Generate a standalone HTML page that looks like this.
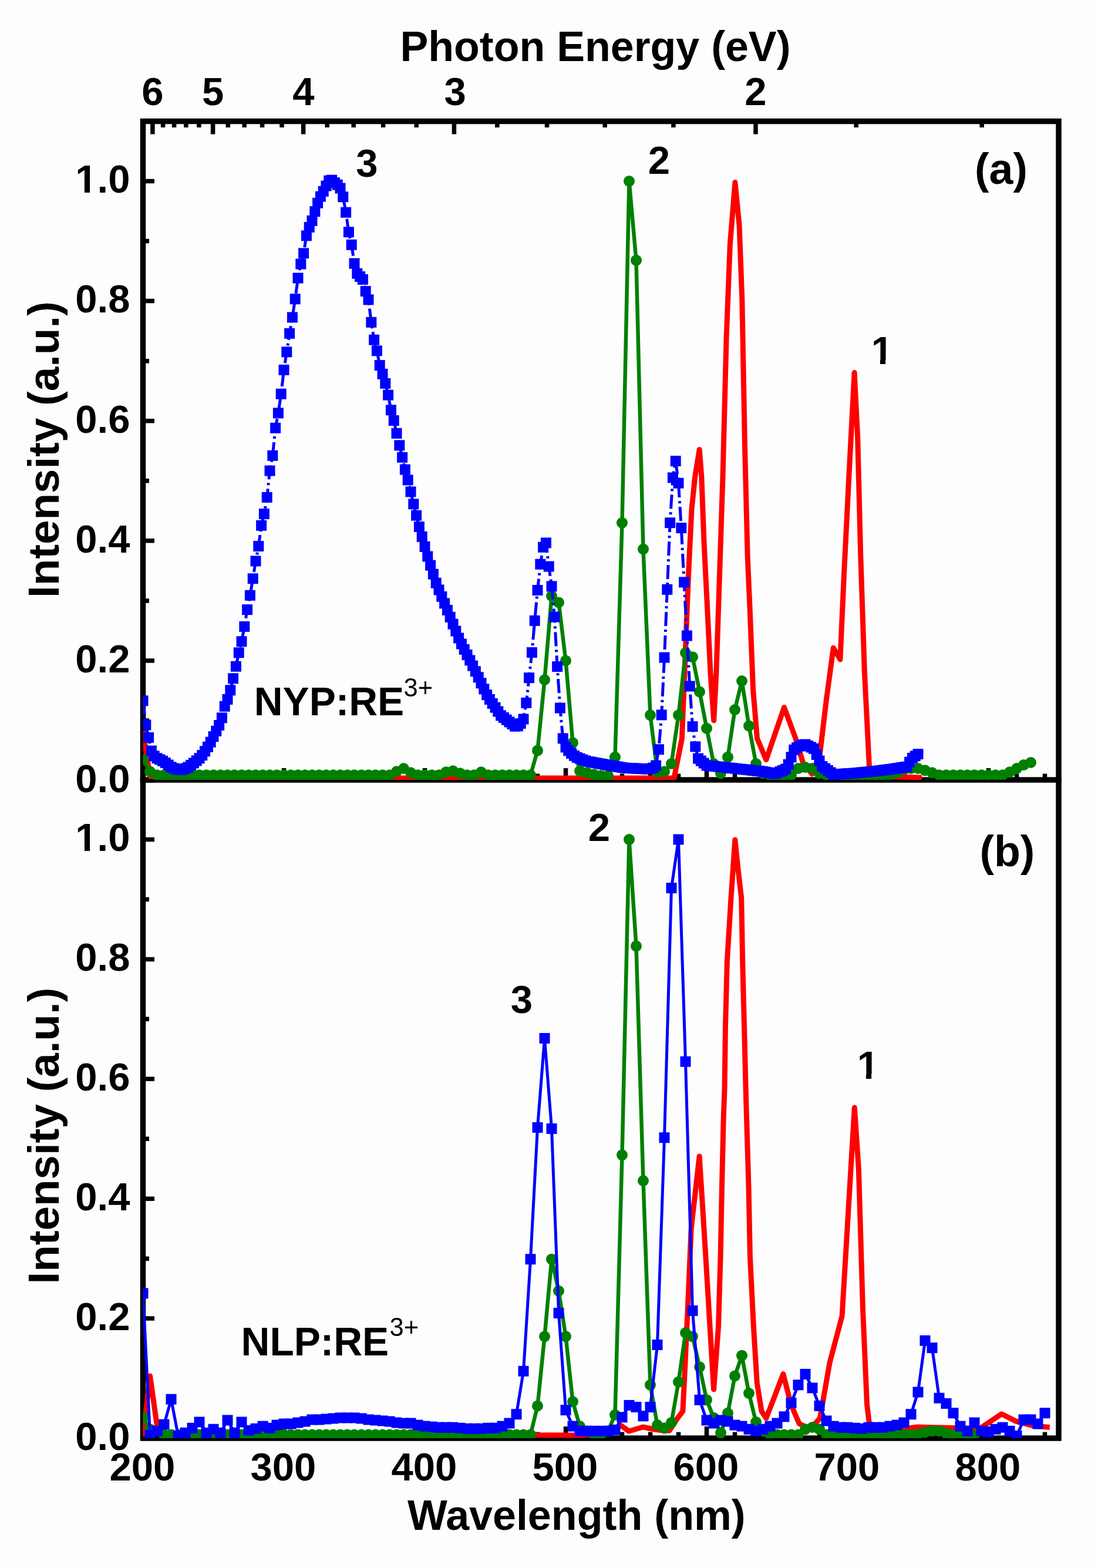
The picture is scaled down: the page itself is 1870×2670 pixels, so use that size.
<!DOCTYPE html>
<html><head><meta charset="utf-8"><style>html,body{margin:0;padding:0;background:#fdfdfd;}svg{display:block;}</style></head><body>
<svg width="1870" height="2670" viewBox="0 0 1870 2670">
<rect width="1870" height="2670" fill="#fdfdfd"/>
<defs>
<clipPath id="ca"><rect x="243.5" y="206.5" width="1559.5" height="1121.5"/></clipPath>
<clipPath id="cb"><rect x="243.5" y="1328" width="1559.5" height="1121"/></clipPath>
</defs>
<g stroke="#000" stroke-width="9.5" fill="none" stroke-linecap="square">
<rect x="243.5" y="206.5" width="1559.5" height="2242.5"/>
<line x1="243.5" y1="1328" x2="1803" y2="1328"/>
</g>
<path d="M243.5,1329.0H263M243.5,1227.0H254M243.5,1124.9H263M243.5,1022.9H254M243.5,920.8H263M243.5,818.8H254M243.5,716.7H263M243.5,614.7H254M243.5,512.6H263M243.5,410.5H254M243.5,308.5H263M243.5,2449.0H263M243.5,2347.1H254M243.5,2245.1H263M243.5,2143.2H254M243.5,2041.2H263M243.5,1939.2H254M243.5,1837.3H263M243.5,1735.3H254M243.5,1633.4H263M243.5,1531.4H254M243.5,1429.5H263M243.5,1328V1308M291.5,1328V1317.5M339.5,1328V1317.5M387.5,1328V1317.5M435.5,1328V1317.5M483.5,1328V1308M531.5,1328V1317.5M579.5,1328V1317.5M627.5,1328V1317.5M675.5,1328V1317.5M723.5,1328V1308M771.5,1328V1317.5M819.5,1328V1317.5M867.5,1328V1317.5M915.5,1328V1317.5M963.5,1328V1308M1011.5,1328V1317.5M1059.5,1328V1317.5M1107.5,1328V1317.5M1155.5,1328V1317.5M1203.5,1328V1308M1251.5,1328V1317.5M1299.5,1328V1317.5M1347.5,1328V1317.5M1395.5,1328V1317.5M1443.5,1328V1308M1491.5,1328V1317.5M1539.5,1328V1317.5M1587.5,1328V1317.5M1635.5,1328V1317.5M1683.5,1328V1308M1731.5,1328V1317.5M1779.5,1328V1317.5M243.5,2449V2429M291.5,2449V2438.5M339.5,2449V2438.5M387.5,2449V2438.5M435.5,2449V2438.5M483.5,2449V2429M531.5,2449V2438.5M579.5,2449V2438.5M627.5,2449V2438.5M675.5,2449V2438.5M723.5,2449V2429M771.5,2449V2438.5M819.5,2449V2438.5M867.5,2449V2438.5M915.5,2449V2438.5M963.5,2449V2429M1011.5,2449V2438.5M1059.5,2449V2438.5M1107.5,2449V2438.5M1155.5,2449V2438.5M1203.5,2449V2429M1251.5,2449V2438.5M1299.5,2449V2438.5M1347.5,2449V2438.5M1395.5,2449V2438.5M1443.5,2449V2429M1491.5,2449V2438.5M1539.5,2449V2438.5M1587.5,2449V2438.5M1635.5,2449V2438.5M1683.5,2449V2429M1731.5,2449V2438.5M1779.5,2449V2438.5M1672.2,206.5V217M1458.2,206.5V217M1287.0,206.5V228.5M1146.9,206.5V217M1030.2,206.5V217M931.5,206.5V217M846.8,206.5V217M773.4,206.5V228.5M709.2,206.5V217M652.6,206.5V217M602.2,206.5V217M557.2,206.5V217M516.6,206.5V228.5M480.0,206.5V217M446.6,206.5V217M416.2,206.5V217M388.3,206.5V217M362.6,206.5V228.5M338.9,206.5V217M316.9,206.5V217M296.6,206.5V217M277.6,206.5V217M259.9,206.5V228.5" stroke="#000" stroke-width="7.5" fill="none"/>
<g clip-path="url(#ca)">
<polyline points="243.5,1245.0 255.5,1322.0 300.0,1325.0 1148.0,1325.0 1161.4,1257.5 1167.0,1118.0 1172.5,978.8 1178.0,867.0 1183.7,811.5 1191.2,765.5 1194.8,811.5 1199.0,923.0 1204.6,1034.5 1210.0,1146.0 1215.7,1226.8 1219.9,1146.0 1225.5,978.8 1231.0,811.5 1237.2,572.0 1243.4,415.4 1251.9,310.4 1259.1,384.0 1263.8,509.4 1268.5,760.2 1273.2,948.3 1277.0,1034.5 1282.6,1173.9 1289.5,1257.5 1304.8,1293.7 1335.5,1204.5 1355.0,1257.5 1368.0,1300.0 1382.9,1318.0 1396.2,1285.3 1407.7,1189.3 1419.3,1103.2 1430.9,1123.0 1437.5,977.4 1445.8,811.8 1455.1,634.6 1460.7,745.6 1465.7,944.2 1472.3,1142.9 1480.6,1308.5 1492.2,1322.0 1570.0,1324.0" fill="none" stroke="#ff0000" stroke-width="9" stroke-linejoin="round"/>
<polyline points="243.5,1293.3 255.5,1313.7 267.5,1319.8 279.5,1319.8 291.5,1319.8 303.5,1319.8 315.5,1319.8 327.5,1319.8 339.5,1319.8 351.5,1319.8 363.5,1319.8 375.5,1319.8 387.5,1319.8 399.5,1319.8 411.5,1319.8 423.5,1319.8 435.5,1319.8 447.5,1319.8 459.5,1319.8 471.5,1319.8 483.5,1319.8 495.5,1319.8 507.5,1319.8 519.5,1319.8 531.5,1319.8 543.5,1319.8 555.5,1319.8 567.5,1319.8 579.5,1319.8 591.5,1319.8 603.5,1319.8 615.5,1319.8 627.5,1319.8 639.5,1319.8 651.5,1319.8 663.5,1319.8 675.5,1313.7 687.5,1308.6 699.5,1315.7 711.5,1319.8 723.5,1319.8 735.5,1319.8 747.5,1319.8 759.5,1314.7 771.5,1312.7 783.5,1316.8 795.5,1319.8 807.5,1319.8 819.5,1314.7 831.5,1319.8 843.5,1319.8 855.5,1319.8 867.5,1319.8 879.5,1319.8 891.5,1319.8 903.5,1319.8 915.5,1278.0 927.5,1157.6 939.5,1014.7 951.5,1025.9 963.5,1124.9 975.5,1264.7 987.5,1312.7 999.5,1315.7 1011.5,1318.8 1023.5,1320.8 1035.5,1320.8 1047.5,1289.2 1059.5,890.2 1071.5,308.5 1083.5,443.2 1095.5,935.1 1107.5,1217.8 1119.5,1314.7 1131.5,1313.7 1143.5,1300.4 1155.5,1217.8 1167.5,1111.6 1179.5,1118.8 1191.5,1178.0 1203.5,1240.2 1215.5,1300.4 1227.5,1316.8 1239.5,1289.2 1251.5,1208.6 1263.5,1159.6 1275.5,1236.1 1287.5,1300.4 1299.5,1316.8 1311.5,1319.8 1323.5,1319.8 1335.5,1319.8 1347.5,1319.8 1359.5,1308.6 1371.5,1306.5 1383.5,1308.6 1395.5,1316.8 1407.5,1319.8 1419.5,1319.8 1431.5,1319.8 1443.5,1319.8 1455.5,1319.8 1467.5,1319.8 1479.5,1319.8 1491.5,1319.8 1503.5,1319.8 1515.5,1319.8 1527.5,1315.7 1539.5,1310.6 1551.5,1308.6 1563.5,1308.6 1575.5,1311.7 1587.5,1315.7 1599.5,1319.8 1611.5,1319.8 1623.5,1319.8 1635.5,1319.8 1647.5,1319.8 1659.5,1319.8 1671.5,1319.8 1683.5,1319.8 1695.5,1319.8 1707.5,1319.8 1719.5,1314.7 1731.5,1308.6 1743.5,1302.5 1755.5,1298.4" fill="none" stroke="#008000" stroke-width="6.5" stroke-linejoin="round"/>
<g fill="#008000"><circle cx="243.5" cy="1293.3" r="9.5"/><circle cx="255.5" cy="1313.7" r="9.5"/><circle cx="267.5" cy="1319.8" r="9.5"/><circle cx="279.5" cy="1319.8" r="9.5"/><circle cx="291.5" cy="1319.8" r="9.5"/><circle cx="303.5" cy="1319.8" r="9.5"/><circle cx="315.5" cy="1319.8" r="9.5"/><circle cx="327.5" cy="1319.8" r="9.5"/><circle cx="339.5" cy="1319.8" r="9.5"/><circle cx="351.5" cy="1319.8" r="9.5"/><circle cx="363.5" cy="1319.8" r="9.5"/><circle cx="375.5" cy="1319.8" r="9.5"/><circle cx="387.5" cy="1319.8" r="9.5"/><circle cx="399.5" cy="1319.8" r="9.5"/><circle cx="411.5" cy="1319.8" r="9.5"/><circle cx="423.5" cy="1319.8" r="9.5"/><circle cx="435.5" cy="1319.8" r="9.5"/><circle cx="447.5" cy="1319.8" r="9.5"/><circle cx="459.5" cy="1319.8" r="9.5"/><circle cx="471.5" cy="1319.8" r="9.5"/><circle cx="483.5" cy="1319.8" r="9.5"/><circle cx="495.5" cy="1319.8" r="9.5"/><circle cx="507.5" cy="1319.8" r="9.5"/><circle cx="519.5" cy="1319.8" r="9.5"/><circle cx="531.5" cy="1319.8" r="9.5"/><circle cx="543.5" cy="1319.8" r="9.5"/><circle cx="555.5" cy="1319.8" r="9.5"/><circle cx="567.5" cy="1319.8" r="9.5"/><circle cx="579.5" cy="1319.8" r="9.5"/><circle cx="591.5" cy="1319.8" r="9.5"/><circle cx="603.5" cy="1319.8" r="9.5"/><circle cx="615.5" cy="1319.8" r="9.5"/><circle cx="627.5" cy="1319.8" r="9.5"/><circle cx="639.5" cy="1319.8" r="9.5"/><circle cx="651.5" cy="1319.8" r="9.5"/><circle cx="663.5" cy="1319.8" r="9.5"/><circle cx="675.5" cy="1313.7" r="9.5"/><circle cx="687.5" cy="1308.6" r="9.5"/><circle cx="699.5" cy="1315.7" r="9.5"/><circle cx="711.5" cy="1319.8" r="9.5"/><circle cx="723.5" cy="1319.8" r="9.5"/><circle cx="735.5" cy="1319.8" r="9.5"/><circle cx="747.5" cy="1319.8" r="9.5"/><circle cx="759.5" cy="1314.7" r="9.5"/><circle cx="771.5" cy="1312.7" r="9.5"/><circle cx="783.5" cy="1316.8" r="9.5"/><circle cx="795.5" cy="1319.8" r="9.5"/><circle cx="807.5" cy="1319.8" r="9.5"/><circle cx="819.5" cy="1314.7" r="9.5"/><circle cx="831.5" cy="1319.8" r="9.5"/><circle cx="843.5" cy="1319.8" r="9.5"/><circle cx="855.5" cy="1319.8" r="9.5"/><circle cx="867.5" cy="1319.8" r="9.5"/><circle cx="879.5" cy="1319.8" r="9.5"/><circle cx="891.5" cy="1319.8" r="9.5"/><circle cx="903.5" cy="1319.8" r="9.5"/><circle cx="915.5" cy="1278.0" r="9.5"/><circle cx="927.5" cy="1157.6" r="9.5"/><circle cx="939.5" cy="1014.7" r="9.5"/><circle cx="951.5" cy="1025.9" r="9.5"/><circle cx="963.5" cy="1124.9" r="9.5"/><circle cx="975.5" cy="1264.7" r="9.5"/><circle cx="987.5" cy="1312.7" r="9.5"/><circle cx="999.5" cy="1315.7" r="9.5"/><circle cx="1011.5" cy="1318.8" r="9.5"/><circle cx="1023.5" cy="1320.8" r="9.5"/><circle cx="1035.5" cy="1320.8" r="9.5"/><circle cx="1047.5" cy="1289.2" r="9.5"/><circle cx="1059.5" cy="890.2" r="9.5"/><circle cx="1071.5" cy="308.5" r="9.5"/><circle cx="1083.5" cy="443.2" r="9.5"/><circle cx="1095.5" cy="935.1" r="9.5"/><circle cx="1107.5" cy="1217.8" r="9.5"/><circle cx="1119.5" cy="1314.7" r="9.5"/><circle cx="1131.5" cy="1313.7" r="9.5"/><circle cx="1143.5" cy="1300.4" r="9.5"/><circle cx="1155.5" cy="1217.8" r="9.5"/><circle cx="1167.5" cy="1111.6" r="9.5"/><circle cx="1179.5" cy="1118.8" r="9.5"/><circle cx="1191.5" cy="1178.0" r="9.5"/><circle cx="1203.5" cy="1240.2" r="9.5"/><circle cx="1215.5" cy="1300.4" r="9.5"/><circle cx="1227.5" cy="1316.8" r="9.5"/><circle cx="1239.5" cy="1289.2" r="9.5"/><circle cx="1251.5" cy="1208.6" r="9.5"/><circle cx="1263.5" cy="1159.6" r="9.5"/><circle cx="1275.5" cy="1236.1" r="9.5"/><circle cx="1287.5" cy="1300.4" r="9.5"/><circle cx="1299.5" cy="1316.8" r="9.5"/><circle cx="1311.5" cy="1319.8" r="9.5"/><circle cx="1323.5" cy="1319.8" r="9.5"/><circle cx="1335.5" cy="1319.8" r="9.5"/><circle cx="1347.5" cy="1319.8" r="9.5"/><circle cx="1359.5" cy="1308.6" r="9.5"/><circle cx="1371.5" cy="1306.5" r="9.5"/><circle cx="1383.5" cy="1308.6" r="9.5"/><circle cx="1395.5" cy="1316.8" r="9.5"/><circle cx="1407.5" cy="1319.8" r="9.5"/><circle cx="1419.5" cy="1319.8" r="9.5"/><circle cx="1431.5" cy="1319.8" r="9.5"/><circle cx="1443.5" cy="1319.8" r="9.5"/><circle cx="1455.5" cy="1319.8" r="9.5"/><circle cx="1467.5" cy="1319.8" r="9.5"/><circle cx="1479.5" cy="1319.8" r="9.5"/><circle cx="1491.5" cy="1319.8" r="9.5"/><circle cx="1503.5" cy="1319.8" r="9.5"/><circle cx="1515.5" cy="1319.8" r="9.5"/><circle cx="1527.5" cy="1315.7" r="9.5"/><circle cx="1539.5" cy="1310.6" r="9.5"/><circle cx="1551.5" cy="1308.6" r="9.5"/><circle cx="1563.5" cy="1308.6" r="9.5"/><circle cx="1575.5" cy="1311.7" r="9.5"/><circle cx="1587.5" cy="1315.7" r="9.5"/><circle cx="1599.5" cy="1319.8" r="9.5"/><circle cx="1611.5" cy="1319.8" r="9.5"/><circle cx="1623.5" cy="1319.8" r="9.5"/><circle cx="1635.5" cy="1319.8" r="9.5"/><circle cx="1647.5" cy="1319.8" r="9.5"/><circle cx="1659.5" cy="1319.8" r="9.5"/><circle cx="1671.5" cy="1319.8" r="9.5"/><circle cx="1683.5" cy="1319.8" r="9.5"/><circle cx="1695.5" cy="1319.8" r="9.5"/><circle cx="1707.5" cy="1319.8" r="9.5"/><circle cx="1719.5" cy="1314.7" r="9.5"/><circle cx="1731.5" cy="1308.6" r="9.5"/><circle cx="1743.5" cy="1302.5" r="9.5"/><circle cx="1755.5" cy="1298.4" r="9.5"/></g>
<polyline points="243.5,1193.3 248.3,1234.4 253.1,1255.9 257.9,1278.5 262.7,1287.3 267.5,1291.2 272.3,1293.4 277.1,1295.8 281.9,1299.0 286.7,1302.5 291.5,1306.3 296.3,1308.3 301.1,1310.2 305.9,1310.6 310.7,1310.6 315.5,1308.6 320.3,1306.5 325.1,1303.0 329.9,1299.4 334.7,1295.3 339.5,1291.2 344.3,1286.1 349.1,1279.3 353.9,1271.8 358.7,1263.7 363.5,1254.3 368.3,1244.8 373.1,1235.0 377.9,1222.3 382.7,1202.8 387.5,1190.9 392.3,1175.3 397.1,1155.3 401.9,1134.8 406.7,1111.4 411.5,1092.3 416.3,1066.9 421.1,1038.2 425.9,1013.8 430.7,985.3 435.5,955.4 440.3,930.1 445.1,894.8 449.9,875.1 454.7,846.9 459.5,801.6 464.3,775.8 469.1,728.8 473.9,703.4 478.7,670.8 483.5,629.9 488.3,599.3 493.1,567.8 497.9,540.4 502.7,509.2 507.5,473.5 512.3,449.5 517.1,431.3 521.9,401.4 526.7,386.9 531.5,375.8 536.3,360.2 541.1,345.7 545.9,334.6 550.7,325.8 555.5,316.5 560.3,307.7 565.1,306.6 569.9,311.0 574.7,314.6 579.5,320.5 584.3,335.3 589.1,361.7 593.9,395.2 598.7,416.8 603.5,448.6 608.3,465.7 613.1,471.0 617.9,475.9 622.7,496.0 627.5,510.3 632.3,548.8 637.1,578.7 641.9,597.3 646.7,622.1 651.5,636.9 656.3,652.9 661.1,672.7 665.9,698.3 670.7,716.1 675.5,737.9 680.3,758.4 685.1,778.8 689.9,799.6 694.7,817.4 699.5,837.4 704.3,858.3 709.1,877.7 713.9,897.0 718.7,913.9 723.5,930.9 728.3,947.5 733.1,962.6 737.9,977.7 742.7,992.8 747.5,1004.4 752.3,1015.9 757.1,1027.4 761.9,1038.9 766.7,1050.8 771.5,1062.7 776.3,1074.6 781.1,1086.5 785.9,1096.5 790.7,1105.8 795.5,1115.1 800.3,1124.4 805.1,1133.7 809.9,1143.3 814.7,1153.3 819.5,1163.3 824.3,1173.3 829.1,1183.2 833.9,1191.0 838.7,1197.9 843.5,1204.7 848.3,1211.5 853.1,1218.4 857.9,1222.0 862.7,1225.7 867.5,1229.4 872.3,1233.0 877.1,1236.7 881.9,1236.3 886.7,1232.0 891.5,1224.5 896.3,1196.8 901.1,1154.2 905.9,1111.1 910.7,1056.9 915.5,1005.0 920.3,960.7 925.1,931.8 929.9,924.4 934.7,964.6 939.5,998.4 944.3,1050.6 949.1,1135.1 953.9,1205.6 958.7,1257.4 963.5,1272.4 968.3,1278.2 973.1,1282.9 977.9,1286.7 982.7,1289.8 987.5,1291.7 992.3,1293.6 997.1,1295.4 1001.9,1296.8 1006.7,1297.6 1011.5,1298.5 1016.3,1299.4 1021.1,1300.3 1025.9,1301.1 1030.7,1301.9 1035.5,1302.8 1040.3,1303.6 1045.1,1304.4 1049.9,1305.3 1054.7,1306.1 1059.5,1306.9 1064.3,1307.6 1069.1,1307.9 1073.9,1308.1 1078.7,1308.3 1083.5,1308.6 1088.3,1308.8 1093.1,1309.1 1097.9,1309.3 1102.7,1309.6 1107.5,1308.7 1112.3,1307.6 1117.1,1303.5 1121.9,1276.2 1126.7,1217.4 1131.5,1119.6 1136.3,1003.8 1141.1,890.2 1145.9,813.4 1150.7,785.1 1155.5,822.7 1160.3,899.0 1165.1,991.4 1169.9,1082.5 1174.7,1168.5 1179.5,1237.2 1184.3,1271.4 1189.1,1291.6 1193.9,1295.6 1198.7,1299.5 1203.5,1303.5 1208.3,1304.0 1213.1,1304.5 1217.9,1305.0 1222.7,1305.5 1227.5,1306.0 1232.3,1306.5 1237.1,1307.1 1241.9,1307.6 1246.7,1308.1 1251.5,1308.6 1256.3,1309.1 1261.1,1309.6 1265.9,1310.1 1270.7,1310.6 1275.5,1311.1 1280.3,1311.7 1285.1,1312.2 1289.9,1312.7 1294.7,1313.2 1299.5,1313.7 1304.3,1314.7 1309.1,1315.6 1313.9,1316.6 1318.7,1317.5 1323.5,1316.1 1328.3,1313.9 1333.1,1311.8 1337.9,1309.6 1342.7,1301.7 1347.5,1289.3 1352.3,1276.8 1357.1,1272.9 1361.9,1270.6 1366.7,1268.2 1371.5,1267.6 1376.3,1270.0 1381.1,1272.4 1385.9,1274.8 1390.7,1285.0 1395.5,1295.5 1400.3,1305.0 1405.1,1308.5 1409.9,1311.9 1414.7,1315.4 1419.5,1318.8 1424.3,1318.5 1429.1,1318.2 1433.9,1317.9 1438.7,1317.6 1443.5,1317.3 1448.3,1317.0 1453.1,1316.7 1457.9,1316.3 1462.7,1315.8 1467.5,1315.4 1472.3,1314.9 1477.1,1314.5 1481.9,1314.0 1486.7,1313.5 1491.5,1313.0 1496.3,1312.4 1501.1,1311.8 1505.9,1311.2 1510.7,1310.6 1515.5,1310.0 1520.3,1309.4 1525.1,1308.6 1529.9,1307.9 1534.7,1307.1 1539.5,1306.4 1544.3,1305.7 1549.1,1297.7 1553.9,1290.8 1558.7,1287.4 1563.5,1284.1" fill="none" stroke="#0000ff" stroke-width="5" stroke-dasharray="24,6,4,6"/>
<g fill="#0000ff"><rect x="234.5" y="1184.3" width="18" height="18"/><rect x="239.3" y="1225.4" width="18" height="18"/><rect x="244.1" y="1246.9" width="18" height="18"/><rect x="248.9" y="1269.5" width="18" height="18"/><rect x="253.7" y="1278.3" width="18" height="18"/><rect x="258.5" y="1282.2" width="18" height="18"/><rect x="263.3" y="1284.4" width="18" height="18"/><rect x="268.1" y="1286.8" width="18" height="18"/><rect x="272.9" y="1290.0" width="18" height="18"/><rect x="277.7" y="1293.5" width="18" height="18"/><rect x="282.5" y="1297.3" width="18" height="18"/><rect x="287.3" y="1299.3" width="18" height="18"/><rect x="292.1" y="1301.2" width="18" height="18"/><rect x="296.9" y="1301.6" width="18" height="18"/><rect x="301.7" y="1301.6" width="18" height="18"/><rect x="306.5" y="1299.6" width="18" height="18"/><rect x="311.3" y="1297.5" width="18" height="18"/><rect x="316.1" y="1294.0" width="18" height="18"/><rect x="320.9" y="1290.4" width="18" height="18"/><rect x="325.7" y="1286.3" width="18" height="18"/><rect x="330.5" y="1282.2" width="18" height="18"/><rect x="335.3" y="1277.1" width="18" height="18"/><rect x="340.1" y="1270.3" width="18" height="18"/><rect x="344.9" y="1262.8" width="18" height="18"/><rect x="349.7" y="1254.7" width="18" height="18"/><rect x="354.5" y="1245.3" width="18" height="18"/><rect x="359.3" y="1235.8" width="18" height="18"/><rect x="364.1" y="1226.0" width="18" height="18"/><rect x="368.9" y="1213.3" width="18" height="18"/><rect x="373.7" y="1193.8" width="18" height="18"/><rect x="378.5" y="1181.9" width="18" height="18"/><rect x="383.3" y="1166.3" width="18" height="18"/><rect x="388.1" y="1146.3" width="18" height="18"/><rect x="392.9" y="1125.8" width="18" height="18"/><rect x="397.7" y="1102.4" width="18" height="18"/><rect x="402.5" y="1083.3" width="18" height="18"/><rect x="407.3" y="1057.9" width="18" height="18"/><rect x="412.1" y="1029.2" width="18" height="18"/><rect x="416.9" y="1004.8" width="18" height="18"/><rect x="421.7" y="976.3" width="18" height="18"/><rect x="426.5" y="946.4" width="18" height="18"/><rect x="431.3" y="921.1" width="18" height="18"/><rect x="436.1" y="885.8" width="18" height="18"/><rect x="440.9" y="866.1" width="18" height="18"/><rect x="445.7" y="837.9" width="18" height="18"/><rect x="450.5" y="792.6" width="18" height="18"/><rect x="455.3" y="766.8" width="18" height="18"/><rect x="460.1" y="719.8" width="18" height="18"/><rect x="464.9" y="694.4" width="18" height="18"/><rect x="469.7" y="661.8" width="18" height="18"/><rect x="474.5" y="620.9" width="18" height="18"/><rect x="479.3" y="590.3" width="18" height="18"/><rect x="484.1" y="558.8" width="18" height="18"/><rect x="488.9" y="531.4" width="18" height="18"/><rect x="493.7" y="500.2" width="18" height="18"/><rect x="498.5" y="464.5" width="18" height="18"/><rect x="503.3" y="440.5" width="18" height="18"/><rect x="508.1" y="422.3" width="18" height="18"/><rect x="512.9" y="392.4" width="18" height="18"/><rect x="517.7" y="377.9" width="18" height="18"/><rect x="522.5" y="366.8" width="18" height="18"/><rect x="527.3" y="351.2" width="18" height="18"/><rect x="532.1" y="336.7" width="18" height="18"/><rect x="536.9" y="325.6" width="18" height="18"/><rect x="541.7" y="316.8" width="18" height="18"/><rect x="546.5" y="307.5" width="18" height="18"/><rect x="551.3" y="298.7" width="18" height="18"/><rect x="556.1" y="297.6" width="18" height="18"/><rect x="560.9" y="302.0" width="18" height="18"/><rect x="565.7" y="305.6" width="18" height="18"/><rect x="570.5" y="311.5" width="18" height="18"/><rect x="575.3" y="326.3" width="18" height="18"/><rect x="580.1" y="352.7" width="18" height="18"/><rect x="584.9" y="386.2" width="18" height="18"/><rect x="589.7" y="407.8" width="18" height="18"/><rect x="594.5" y="439.6" width="18" height="18"/><rect x="599.3" y="456.7" width="18" height="18"/><rect x="604.1" y="462.0" width="18" height="18"/><rect x="608.9" y="466.9" width="18" height="18"/><rect x="613.7" y="487.0" width="18" height="18"/><rect x="618.5" y="501.3" width="18" height="18"/><rect x="623.3" y="539.8" width="18" height="18"/><rect x="628.1" y="569.7" width="18" height="18"/><rect x="632.9" y="588.3" width="18" height="18"/><rect x="637.7" y="613.1" width="18" height="18"/><rect x="642.5" y="627.9" width="18" height="18"/><rect x="647.3" y="643.9" width="18" height="18"/><rect x="652.1" y="663.7" width="18" height="18"/><rect x="656.9" y="689.3" width="18" height="18"/><rect x="661.7" y="707.1" width="18" height="18"/><rect x="666.5" y="728.9" width="18" height="18"/><rect x="671.3" y="749.4" width="18" height="18"/><rect x="676.1" y="769.8" width="18" height="18"/><rect x="680.9" y="790.6" width="18" height="18"/><rect x="685.7" y="808.4" width="18" height="18"/><rect x="690.5" y="828.4" width="18" height="18"/><rect x="695.3" y="849.3" width="18" height="18"/><rect x="700.1" y="868.7" width="18" height="18"/><rect x="704.9" y="888.0" width="18" height="18"/><rect x="709.7" y="904.9" width="18" height="18"/><rect x="714.5" y="921.9" width="18" height="18"/><rect x="719.3" y="938.5" width="18" height="18"/><rect x="724.1" y="953.6" width="18" height="18"/><rect x="728.9" y="968.7" width="18" height="18"/><rect x="733.7" y="983.8" width="18" height="18"/><rect x="738.5" y="995.4" width="18" height="18"/><rect x="743.3" y="1006.9" width="18" height="18"/><rect x="748.1" y="1018.4" width="18" height="18"/><rect x="752.9" y="1029.9" width="18" height="18"/><rect x="757.7" y="1041.8" width="18" height="18"/><rect x="762.5" y="1053.7" width="18" height="18"/><rect x="767.3" y="1065.6" width="18" height="18"/><rect x="772.1" y="1077.5" width="18" height="18"/><rect x="776.9" y="1087.5" width="18" height="18"/><rect x="781.7" y="1096.8" width="18" height="18"/><rect x="786.5" y="1106.1" width="18" height="18"/><rect x="791.3" y="1115.4" width="18" height="18"/><rect x="796.1" y="1124.7" width="18" height="18"/><rect x="800.9" y="1134.3" width="18" height="18"/><rect x="805.7" y="1144.3" width="18" height="18"/><rect x="810.5" y="1154.3" width="18" height="18"/><rect x="815.3" y="1164.3" width="18" height="18"/><rect x="820.1" y="1174.2" width="18" height="18"/><rect x="824.9" y="1182.0" width="18" height="18"/><rect x="829.7" y="1188.9" width="18" height="18"/><rect x="834.5" y="1195.7" width="18" height="18"/><rect x="839.3" y="1202.5" width="18" height="18"/><rect x="844.1" y="1209.4" width="18" height="18"/><rect x="848.9" y="1213.0" width="18" height="18"/><rect x="853.7" y="1216.7" width="18" height="18"/><rect x="858.5" y="1220.4" width="18" height="18"/><rect x="863.3" y="1224.0" width="18" height="18"/><rect x="868.1" y="1227.7" width="18" height="18"/><rect x="872.9" y="1227.3" width="18" height="18"/><rect x="877.7" y="1223.0" width="18" height="18"/><rect x="882.5" y="1215.5" width="18" height="18"/><rect x="887.3" y="1187.8" width="18" height="18"/><rect x="892.1" y="1145.2" width="18" height="18"/><rect x="896.9" y="1102.1" width="18" height="18"/><rect x="901.7" y="1047.9" width="18" height="18"/><rect x="906.5" y="996.0" width="18" height="18"/><rect x="911.3" y="951.7" width="18" height="18"/><rect x="916.1" y="922.8" width="18" height="18"/><rect x="920.9" y="915.4" width="18" height="18"/><rect x="925.7" y="955.6" width="18" height="18"/><rect x="930.5" y="989.4" width="18" height="18"/><rect x="935.3" y="1041.6" width="18" height="18"/><rect x="940.1" y="1126.1" width="18" height="18"/><rect x="944.9" y="1196.6" width="18" height="18"/><rect x="949.7" y="1248.4" width="18" height="18"/><rect x="954.5" y="1263.4" width="18" height="18"/><rect x="959.3" y="1269.2" width="18" height="18"/><rect x="964.1" y="1273.9" width="18" height="18"/><rect x="968.9" y="1277.7" width="18" height="18"/><rect x="973.7" y="1280.8" width="18" height="18"/><rect x="978.5" y="1282.7" width="18" height="18"/><rect x="983.3" y="1284.6" width="18" height="18"/><rect x="988.1" y="1286.4" width="18" height="18"/><rect x="992.9" y="1287.8" width="18" height="18"/><rect x="997.7" y="1288.6" width="18" height="18"/><rect x="1002.5" y="1289.5" width="18" height="18"/><rect x="1007.3" y="1290.4" width="18" height="18"/><rect x="1012.1" y="1291.3" width="18" height="18"/><rect x="1016.9" y="1292.1" width="18" height="18"/><rect x="1021.7" y="1292.9" width="18" height="18"/><rect x="1026.5" y="1293.8" width="18" height="18"/><rect x="1031.3" y="1294.6" width="18" height="18"/><rect x="1036.1" y="1295.4" width="18" height="18"/><rect x="1040.9" y="1296.3" width="18" height="18"/><rect x="1045.7" y="1297.1" width="18" height="18"/><rect x="1050.5" y="1297.9" width="18" height="18"/><rect x="1055.3" y="1298.6" width="18" height="18"/><rect x="1060.1" y="1298.9" width="18" height="18"/><rect x="1064.9" y="1299.1" width="18" height="18"/><rect x="1069.7" y="1299.3" width="18" height="18"/><rect x="1074.5" y="1299.6" width="18" height="18"/><rect x="1079.3" y="1299.8" width="18" height="18"/><rect x="1084.1" y="1300.1" width="18" height="18"/><rect x="1088.9" y="1300.3" width="18" height="18"/><rect x="1093.7" y="1300.6" width="18" height="18"/><rect x="1098.5" y="1299.7" width="18" height="18"/><rect x="1103.3" y="1298.6" width="18" height="18"/><rect x="1108.1" y="1294.5" width="18" height="18"/><rect x="1112.9" y="1267.2" width="18" height="18"/><rect x="1117.7" y="1208.4" width="18" height="18"/><rect x="1122.5" y="1110.6" width="18" height="18"/><rect x="1127.3" y="994.8" width="18" height="18"/><rect x="1132.1" y="881.2" width="18" height="18"/><rect x="1136.9" y="804.4" width="18" height="18"/><rect x="1141.7" y="776.1" width="18" height="18"/><rect x="1146.5" y="813.7" width="18" height="18"/><rect x="1151.3" y="890.0" width="18" height="18"/><rect x="1156.1" y="982.4" width="18" height="18"/><rect x="1160.9" y="1073.5" width="18" height="18"/><rect x="1165.7" y="1159.5" width="18" height="18"/><rect x="1170.5" y="1228.2" width="18" height="18"/><rect x="1175.3" y="1262.4" width="18" height="18"/><rect x="1180.1" y="1282.6" width="18" height="18"/><rect x="1184.9" y="1286.6" width="18" height="18"/><rect x="1189.7" y="1290.5" width="18" height="18"/><rect x="1194.5" y="1294.5" width="18" height="18"/><rect x="1199.3" y="1295.0" width="18" height="18"/><rect x="1204.1" y="1295.5" width="18" height="18"/><rect x="1208.9" y="1296.0" width="18" height="18"/><rect x="1213.7" y="1296.5" width="18" height="18"/><rect x="1218.5" y="1297.0" width="18" height="18"/><rect x="1223.3" y="1297.5" width="18" height="18"/><rect x="1228.1" y="1298.1" width="18" height="18"/><rect x="1232.9" y="1298.6" width="18" height="18"/><rect x="1237.7" y="1299.1" width="18" height="18"/><rect x="1242.5" y="1299.6" width="18" height="18"/><rect x="1247.3" y="1300.1" width="18" height="18"/><rect x="1252.1" y="1300.6" width="18" height="18"/><rect x="1256.9" y="1301.1" width="18" height="18"/><rect x="1261.7" y="1301.6" width="18" height="18"/><rect x="1266.5" y="1302.1" width="18" height="18"/><rect x="1271.3" y="1302.7" width="18" height="18"/><rect x="1276.1" y="1303.2" width="18" height="18"/><rect x="1280.9" y="1303.7" width="18" height="18"/><rect x="1285.7" y="1304.2" width="18" height="18"/><rect x="1290.5" y="1304.7" width="18" height="18"/><rect x="1295.3" y="1305.7" width="18" height="18"/><rect x="1300.1" y="1306.6" width="18" height="18"/><rect x="1304.9" y="1307.6" width="18" height="18"/><rect x="1309.7" y="1308.5" width="18" height="18"/><rect x="1314.5" y="1307.1" width="18" height="18"/><rect x="1319.3" y="1304.9" width="18" height="18"/><rect x="1324.1" y="1302.8" width="18" height="18"/><rect x="1328.9" y="1300.6" width="18" height="18"/><rect x="1333.7" y="1292.7" width="18" height="18"/><rect x="1338.5" y="1280.3" width="18" height="18"/><rect x="1343.3" y="1267.8" width="18" height="18"/><rect x="1348.1" y="1263.9" width="18" height="18"/><rect x="1352.9" y="1261.6" width="18" height="18"/><rect x="1357.7" y="1259.2" width="18" height="18"/><rect x="1362.5" y="1258.6" width="18" height="18"/><rect x="1367.3" y="1261.0" width="18" height="18"/><rect x="1372.1" y="1263.4" width="18" height="18"/><rect x="1376.9" y="1265.8" width="18" height="18"/><rect x="1381.7" y="1276.0" width="18" height="18"/><rect x="1386.5" y="1286.5" width="18" height="18"/><rect x="1391.3" y="1296.0" width="18" height="18"/><rect x="1396.1" y="1299.5" width="18" height="18"/><rect x="1400.9" y="1302.9" width="18" height="18"/><rect x="1405.7" y="1306.4" width="18" height="18"/><rect x="1410.5" y="1309.8" width="18" height="18"/><rect x="1415.3" y="1309.5" width="18" height="18"/><rect x="1420.1" y="1309.2" width="18" height="18"/><rect x="1424.9" y="1308.9" width="18" height="18"/><rect x="1429.7" y="1308.6" width="18" height="18"/><rect x="1434.5" y="1308.3" width="18" height="18"/><rect x="1439.3" y="1308.0" width="18" height="18"/><rect x="1444.1" y="1307.7" width="18" height="18"/><rect x="1448.9" y="1307.3" width="18" height="18"/><rect x="1453.7" y="1306.8" width="18" height="18"/><rect x="1458.5" y="1306.4" width="18" height="18"/><rect x="1463.3" y="1305.9" width="18" height="18"/><rect x="1468.1" y="1305.5" width="18" height="18"/><rect x="1472.9" y="1305.0" width="18" height="18"/><rect x="1477.7" y="1304.5" width="18" height="18"/><rect x="1482.5" y="1304.0" width="18" height="18"/><rect x="1487.3" y="1303.4" width="18" height="18"/><rect x="1492.1" y="1302.8" width="18" height="18"/><rect x="1496.9" y="1302.2" width="18" height="18"/><rect x="1501.7" y="1301.6" width="18" height="18"/><rect x="1506.5" y="1301.0" width="18" height="18"/><rect x="1511.3" y="1300.4" width="18" height="18"/><rect x="1516.1" y="1299.6" width="18" height="18"/><rect x="1520.9" y="1298.9" width="18" height="18"/><rect x="1525.7" y="1298.1" width="18" height="18"/><rect x="1530.5" y="1297.4" width="18" height="18"/><rect x="1535.3" y="1296.7" width="18" height="18"/><rect x="1540.1" y="1288.7" width="18" height="18"/><rect x="1544.9" y="1281.8" width="18" height="18"/><rect x="1549.7" y="1278.4" width="18" height="18"/><rect x="1554.5" y="1275.1" width="18" height="18"/></g>
</g>
<g clip-path="url(#cb)">
<polyline points="243.5,2446.0 255.5,2343.0 267.5,2428.0 280.0,2442.0 989.0,2444.0 1040.0,2440.0 1057.0,2427.0 1071.0,2437.0 1095.0,2430.0 1115.0,2434.0 1130.0,2436.0 1140.0,2436.0 1154.0,2414.8 1162.9,2403.0 1166.5,2331.1 1172.0,2211.4 1177.2,2091.6 1191.1,1969.0 1195.9,2043.7 1201.9,2139.5 1209.1,2259.3 1215.6,2365.9 1223.5,2259.3 1227.1,2139.5 1229.5,2019.8 1232.3,1900.0 1234.0,1856.0 1235.5,1747.0 1238.3,1638.0 1245.0,1529.0 1251.8,1430.0 1257.0,1480.0 1262.7,1529.0 1264.7,1638.0 1267.5,1747.0 1270.2,1856.0 1271.4,1900.0 1275.0,2019.8 1277.4,2139.5 1283.4,2259.3 1289.3,2355.1 1297.0,2403.0 1304.9,2415.0 1333.9,2339.6 1347.0,2391.3 1361.2,2424.2 1380.0,2433.6 1396.5,2414.8 1413.0,2320.7 1434.1,2240.8 1455.3,1886.0 1462.4,1991.5 1469.4,2226.7 1476.5,2391.3 1481.2,2430.0 1541.6,2432.4 1562.0,2430.0 1668.8,2432.4 1705.7,2407.8 1730.4,2420.1 1760.0,2428.0 1787.8,2430.4" fill="none" stroke="#ff0000" stroke-width="9" stroke-linejoin="round"/>
<polyline points="243.5,2413.3 255.5,2433.7 267.5,2436.8 279.5,2442.9 291.5,2442.9 303.5,2442.9 315.5,2442.9 327.5,2442.9 339.5,2442.9 351.5,2442.9 363.5,2442.9 375.5,2442.9 387.5,2442.9 399.5,2442.9 411.5,2442.9 423.5,2442.9 435.5,2442.9 447.5,2442.9 459.5,2442.9 471.5,2442.9 483.5,2442.9 495.5,2442.9 507.5,2442.9 519.5,2442.9 531.5,2442.9 543.5,2442.9 555.5,2442.9 567.5,2442.9 579.5,2442.9 591.5,2442.9 603.5,2442.9 615.5,2442.9 627.5,2442.9 639.5,2442.9 651.5,2442.9 663.5,2442.9 675.5,2442.9 687.5,2442.9 699.5,2442.9 711.5,2442.9 723.5,2442.9 735.5,2442.9 747.5,2442.9 759.5,2442.9 771.5,2442.9 783.5,2442.9 795.5,2442.9 807.5,2442.9 819.5,2442.9 831.5,2442.9 843.5,2442.9 855.5,2442.9 867.5,2442.9 879.5,2442.9 891.5,2442.9 903.5,2442.9 915.5,2393.9 927.5,2275.7 939.5,2144.2 951.5,2198.2 963.5,2275.7 975.5,2386.8 987.5,2428.6 999.5,2436.8 1011.5,2442.9 1023.5,2442.9 1035.5,2436.8 1047.5,2409.2 1059.5,1966.8 1071.5,1429.5 1083.5,1611.0 1095.5,2010.6 1107.5,2358.3 1119.5,2426.6 1131.5,2431.7 1143.5,2422.5 1155.5,2353.2 1167.5,2269.6 1179.5,2275.7 1191.5,2327.7 1203.5,2383.8 1215.5,2414.3 1227.5,2439.8 1239.5,2406.2 1251.5,2343.0 1263.5,2308.3 1275.5,2372.5 1287.5,2421.5 1299.5,2436.8 1311.5,2442.9 1323.5,2442.9 1335.5,2442.9 1347.5,2442.9 1359.5,2442.9 1371.5,2433.7 1383.5,2430.6 1395.5,2433.7 1407.5,2442.9 1419.5,2442.9 1431.5,2442.9 1443.5,2442.9 1455.5,2442.9 1467.5,2442.9 1479.5,2442.9 1491.5,2442.9 1503.5,2442.9 1515.5,2442.9 1527.5,2442.9 1539.5,2442.9 1551.5,2442.9 1563.5,2441.9 1575.5,2438.8 1587.5,2436.8 1599.5,2436.8 1611.5,2440.8 1623.5,2442.9 1635.5,2442.9 1647.5,2442.9 1659.5,2442.9" fill="none" stroke="#008000" stroke-width="6.5" stroke-linejoin="round"/>
<g fill="#008000"><circle cx="243.5" cy="2413.3" r="9.5"/><circle cx="255.5" cy="2433.7" r="9.5"/><circle cx="267.5" cy="2436.8" r="9.5"/><circle cx="279.5" cy="2442.9" r="9.5"/><circle cx="291.5" cy="2442.9" r="9.5"/><circle cx="303.5" cy="2442.9" r="9.5"/><circle cx="315.5" cy="2442.9" r="9.5"/><circle cx="327.5" cy="2442.9" r="9.5"/><circle cx="339.5" cy="2442.9" r="9.5"/><circle cx="351.5" cy="2442.9" r="9.5"/><circle cx="363.5" cy="2442.9" r="9.5"/><circle cx="375.5" cy="2442.9" r="9.5"/><circle cx="387.5" cy="2442.9" r="9.5"/><circle cx="399.5" cy="2442.9" r="9.5"/><circle cx="411.5" cy="2442.9" r="9.5"/><circle cx="423.5" cy="2442.9" r="9.5"/><circle cx="435.5" cy="2442.9" r="9.5"/><circle cx="447.5" cy="2442.9" r="9.5"/><circle cx="459.5" cy="2442.9" r="9.5"/><circle cx="471.5" cy="2442.9" r="9.5"/><circle cx="483.5" cy="2442.9" r="9.5"/><circle cx="495.5" cy="2442.9" r="9.5"/><circle cx="507.5" cy="2442.9" r="9.5"/><circle cx="519.5" cy="2442.9" r="9.5"/><circle cx="531.5" cy="2442.9" r="9.5"/><circle cx="543.5" cy="2442.9" r="9.5"/><circle cx="555.5" cy="2442.9" r="9.5"/><circle cx="567.5" cy="2442.9" r="9.5"/><circle cx="579.5" cy="2442.9" r="9.5"/><circle cx="591.5" cy="2442.9" r="9.5"/><circle cx="603.5" cy="2442.9" r="9.5"/><circle cx="615.5" cy="2442.9" r="9.5"/><circle cx="627.5" cy="2442.9" r="9.5"/><circle cx="639.5" cy="2442.9" r="9.5"/><circle cx="651.5" cy="2442.9" r="9.5"/><circle cx="663.5" cy="2442.9" r="9.5"/><circle cx="675.5" cy="2442.9" r="9.5"/><circle cx="687.5" cy="2442.9" r="9.5"/><circle cx="699.5" cy="2442.9" r="9.5"/><circle cx="711.5" cy="2442.9" r="9.5"/><circle cx="723.5" cy="2442.9" r="9.5"/><circle cx="735.5" cy="2442.9" r="9.5"/><circle cx="747.5" cy="2442.9" r="9.5"/><circle cx="759.5" cy="2442.9" r="9.5"/><circle cx="771.5" cy="2442.9" r="9.5"/><circle cx="783.5" cy="2442.9" r="9.5"/><circle cx="795.5" cy="2442.9" r="9.5"/><circle cx="807.5" cy="2442.9" r="9.5"/><circle cx="819.5" cy="2442.9" r="9.5"/><circle cx="831.5" cy="2442.9" r="9.5"/><circle cx="843.5" cy="2442.9" r="9.5"/><circle cx="855.5" cy="2442.9" r="9.5"/><circle cx="867.5" cy="2442.9" r="9.5"/><circle cx="879.5" cy="2442.9" r="9.5"/><circle cx="891.5" cy="2442.9" r="9.5"/><circle cx="903.5" cy="2442.9" r="9.5"/><circle cx="915.5" cy="2393.9" r="9.5"/><circle cx="927.5" cy="2275.7" r="9.5"/><circle cx="939.5" cy="2144.2" r="9.5"/><circle cx="951.5" cy="2198.2" r="9.5"/><circle cx="963.5" cy="2275.7" r="9.5"/><circle cx="975.5" cy="2386.8" r="9.5"/><circle cx="987.5" cy="2428.6" r="9.5"/><circle cx="999.5" cy="2436.8" r="9.5"/><circle cx="1011.5" cy="2442.9" r="9.5"/><circle cx="1023.5" cy="2442.9" r="9.5"/><circle cx="1035.5" cy="2436.8" r="9.5"/><circle cx="1047.5" cy="2409.2" r="9.5"/><circle cx="1059.5" cy="1966.8" r="9.5"/><circle cx="1071.5" cy="1429.5" r="9.5"/><circle cx="1083.5" cy="1611.0" r="9.5"/><circle cx="1095.5" cy="2010.6" r="9.5"/><circle cx="1107.5" cy="2358.3" r="9.5"/><circle cx="1119.5" cy="2426.6" r="9.5"/><circle cx="1131.5" cy="2431.7" r="9.5"/><circle cx="1143.5" cy="2422.5" r="9.5"/><circle cx="1155.5" cy="2353.2" r="9.5"/><circle cx="1167.5" cy="2269.6" r="9.5"/><circle cx="1179.5" cy="2275.7" r="9.5"/><circle cx="1191.5" cy="2327.7" r="9.5"/><circle cx="1203.5" cy="2383.8" r="9.5"/><circle cx="1215.5" cy="2414.3" r="9.5"/><circle cx="1227.5" cy="2439.8" r="9.5"/><circle cx="1239.5" cy="2406.2" r="9.5"/><circle cx="1251.5" cy="2343.0" r="9.5"/><circle cx="1263.5" cy="2308.3" r="9.5"/><circle cx="1275.5" cy="2372.5" r="9.5"/><circle cx="1287.5" cy="2421.5" r="9.5"/><circle cx="1299.5" cy="2436.8" r="9.5"/><circle cx="1311.5" cy="2442.9" r="9.5"/><circle cx="1323.5" cy="2442.9" r="9.5"/><circle cx="1335.5" cy="2442.9" r="9.5"/><circle cx="1347.5" cy="2442.9" r="9.5"/><circle cx="1359.5" cy="2442.9" r="9.5"/><circle cx="1371.5" cy="2433.7" r="9.5"/><circle cx="1383.5" cy="2430.6" r="9.5"/><circle cx="1395.5" cy="2433.7" r="9.5"/><circle cx="1407.5" cy="2442.9" r="9.5"/><circle cx="1419.5" cy="2442.9" r="9.5"/><circle cx="1431.5" cy="2442.9" r="9.5"/><circle cx="1443.5" cy="2442.9" r="9.5"/><circle cx="1455.5" cy="2442.9" r="9.5"/><circle cx="1467.5" cy="2442.9" r="9.5"/><circle cx="1479.5" cy="2442.9" r="9.5"/><circle cx="1491.5" cy="2442.9" r="9.5"/><circle cx="1503.5" cy="2442.9" r="9.5"/><circle cx="1515.5" cy="2442.9" r="9.5"/><circle cx="1527.5" cy="2442.9" r="9.5"/><circle cx="1539.5" cy="2442.9" r="9.5"/><circle cx="1551.5" cy="2442.9" r="9.5"/><circle cx="1563.5" cy="2441.9" r="9.5"/><circle cx="1575.5" cy="2438.8" r="9.5"/><circle cx="1587.5" cy="2436.8" r="9.5"/><circle cx="1599.5" cy="2436.8" r="9.5"/><circle cx="1611.5" cy="2440.8" r="9.5"/><circle cx="1623.5" cy="2442.9" r="9.5"/><circle cx="1635.5" cy="2442.9" r="9.5"/><circle cx="1647.5" cy="2442.9" r="9.5"/><circle cx="1659.5" cy="2442.9" r="9.5"/></g>
<polyline points="243.5,2202.3 255.5,2443.9 267.5,2436.8 279.5,2425.6 291.5,2382.7 303.5,2444.9 315.5,2439.8 327.5,2431.7 339.5,2421.5 351.5,2439.8 363.5,2433.7 375.5,2439.8 387.5,2418.4 399.5,2439.8 411.5,2421.5 423.5,2435.7 435.5,2432.7 447.5,2428.6 459.5,2431.7 471.5,2426.6 483.5,2424.5 495.5,2424.5 507.5,2422.5 519.5,2420.5 531.5,2417.4 543.5,2417.4 555.5,2416.4 567.5,2415.4 579.5,2414.3 591.5,2414.3 603.5,2414.3 615.5,2415.4 627.5,2417.4 639.5,2418.4 651.5,2419.4 663.5,2420.5 675.5,2422.5 687.5,2423.5 699.5,2423.5 711.5,2426.6 723.5,2428.6 735.5,2429.6 747.5,2430.6 759.5,2430.6 771.5,2430.6 783.5,2431.7 795.5,2432.7 807.5,2432.7 819.5,2432.7 831.5,2431.7 843.5,2431.7 855.5,2428.6 867.5,2423.5 879.5,2408.2 891.5,2334.8 903.5,2144.2 915.5,1919.9 927.5,1768.0 939.5,1921.9 951.5,2235.9 963.5,2401.1 975.5,2428.6 987.5,2436.8 999.5,2436.8 1011.5,2436.8 1023.5,2436.8 1035.5,2436.8 1047.5,2434.7 1059.5,2413.3 1071.5,2392.9 1083.5,2396.0 1095.5,2411.3 1107.5,2396.0 1119.5,2290.0 1131.5,1937.2 1143.5,1512.1 1155.5,1429.5 1167.5,1807.7 1179.5,2231.8 1191.5,2383.8 1203.5,2418.4 1215.5,2423.5 1227.5,2418.4 1239.5,2420.5 1251.5,2426.6 1263.5,2428.6 1275.5,2433.7 1287.5,2436.8 1299.5,2433.7 1311.5,2428.6 1323.5,2423.5 1335.5,2412.3 1347.5,2388.8 1359.5,2358.3 1371.5,2339.9 1383.5,2363.4 1395.5,2393.9 1407.5,2419.4 1419.5,2428.6 1431.5,2430.6 1443.5,2430.6 1455.5,2431.7 1467.5,2432.7 1479.5,2430.6 1491.5,2430.6 1503.5,2430.6 1515.5,2428.6 1527.5,2426.6 1539.5,2422.5 1551.5,2408.2 1563.5,2370.5 1575.5,2282.8 1587.5,2295.1 1599.5,2380.7 1611.5,2389.9 1623.5,2406.2 1635.5,2428.6 1647.5,2436.8 1659.5,2422.5 1671.5,2436.8 1683.5,2438.8 1695.5,2433.7 1707.5,2430.6 1719.5,2436.8 1731.5,2444.9 1743.5,2417.4 1755.5,2417.4 1767.5,2424.5 1779.5,2406.2" fill="none" stroke="#0000ff" stroke-width="5"/>
<g fill="#0000ff"><rect x="234.5" y="2193.3" width="18" height="18"/><rect x="246.5" y="2434.9" width="18" height="18"/><rect x="258.5" y="2427.8" width="18" height="18"/><rect x="270.5" y="2416.6" width="18" height="18"/><rect x="282.5" y="2373.7" width="18" height="18"/><rect x="294.5" y="2435.9" width="18" height="18"/><rect x="306.5" y="2430.8" width="18" height="18"/><rect x="318.5" y="2422.7" width="18" height="18"/><rect x="330.5" y="2412.5" width="18" height="18"/><rect x="342.5" y="2430.8" width="18" height="18"/><rect x="354.5" y="2424.7" width="18" height="18"/><rect x="366.5" y="2430.8" width="18" height="18"/><rect x="378.5" y="2409.4" width="18" height="18"/><rect x="390.5" y="2430.8" width="18" height="18"/><rect x="402.5" y="2412.5" width="18" height="18"/><rect x="414.5" y="2426.7" width="18" height="18"/><rect x="426.5" y="2423.7" width="18" height="18"/><rect x="438.5" y="2419.6" width="18" height="18"/><rect x="450.5" y="2422.7" width="18" height="18"/><rect x="462.5" y="2417.6" width="18" height="18"/><rect x="474.5" y="2415.5" width="18" height="18"/><rect x="486.5" y="2415.5" width="18" height="18"/><rect x="498.5" y="2413.5" width="18" height="18"/><rect x="510.5" y="2411.5" width="18" height="18"/><rect x="522.5" y="2408.4" width="18" height="18"/><rect x="534.5" y="2408.4" width="18" height="18"/><rect x="546.5" y="2407.4" width="18" height="18"/><rect x="558.5" y="2406.4" width="18" height="18"/><rect x="570.5" y="2405.3" width="18" height="18"/><rect x="582.5" y="2405.3" width="18" height="18"/><rect x="594.5" y="2405.3" width="18" height="18"/><rect x="606.5" y="2406.4" width="18" height="18"/><rect x="618.5" y="2408.4" width="18" height="18"/><rect x="630.5" y="2409.4" width="18" height="18"/><rect x="642.5" y="2410.4" width="18" height="18"/><rect x="654.5" y="2411.5" width="18" height="18"/><rect x="666.5" y="2413.5" width="18" height="18"/><rect x="678.5" y="2414.5" width="18" height="18"/><rect x="690.5" y="2414.5" width="18" height="18"/><rect x="702.5" y="2417.6" width="18" height="18"/><rect x="714.5" y="2419.6" width="18" height="18"/><rect x="726.5" y="2420.6" width="18" height="18"/><rect x="738.5" y="2421.6" width="18" height="18"/><rect x="750.5" y="2421.6" width="18" height="18"/><rect x="762.5" y="2421.6" width="18" height="18"/><rect x="774.5" y="2422.7" width="18" height="18"/><rect x="786.5" y="2423.7" width="18" height="18"/><rect x="798.5" y="2423.7" width="18" height="18"/><rect x="810.5" y="2423.7" width="18" height="18"/><rect x="822.5" y="2422.7" width="18" height="18"/><rect x="834.5" y="2422.7" width="18" height="18"/><rect x="846.5" y="2419.6" width="18" height="18"/><rect x="858.5" y="2414.5" width="18" height="18"/><rect x="870.5" y="2399.2" width="18" height="18"/><rect x="882.5" y="2325.8" width="18" height="18"/><rect x="894.5" y="2135.2" width="18" height="18"/><rect x="906.5" y="1910.9" width="18" height="18"/><rect x="918.5" y="1759.0" width="18" height="18"/><rect x="930.5" y="1912.9" width="18" height="18"/><rect x="942.5" y="2226.9" width="18" height="18"/><rect x="954.5" y="2392.1" width="18" height="18"/><rect x="966.5" y="2419.6" width="18" height="18"/><rect x="978.5" y="2427.8" width="18" height="18"/><rect x="990.5" y="2427.8" width="18" height="18"/><rect x="1002.5" y="2427.8" width="18" height="18"/><rect x="1014.5" y="2427.8" width="18" height="18"/><rect x="1026.5" y="2427.8" width="18" height="18"/><rect x="1038.5" y="2425.7" width="18" height="18"/><rect x="1050.5" y="2404.3" width="18" height="18"/><rect x="1062.5" y="2383.9" width="18" height="18"/><rect x="1074.5" y="2387.0" width="18" height="18"/><rect x="1086.5" y="2402.3" width="18" height="18"/><rect x="1098.5" y="2387.0" width="18" height="18"/><rect x="1110.5" y="2281.0" width="18" height="18"/><rect x="1122.5" y="1928.2" width="18" height="18"/><rect x="1134.5" y="1503.1" width="18" height="18"/><rect x="1146.5" y="1420.5" width="18" height="18"/><rect x="1158.5" y="1798.7" width="18" height="18"/><rect x="1170.5" y="2222.8" width="18" height="18"/><rect x="1182.5" y="2374.8" width="18" height="18"/><rect x="1194.5" y="2409.4" width="18" height="18"/><rect x="1206.5" y="2414.5" width="18" height="18"/><rect x="1218.5" y="2409.4" width="18" height="18"/><rect x="1230.5" y="2411.5" width="18" height="18"/><rect x="1242.5" y="2417.6" width="18" height="18"/><rect x="1254.5" y="2419.6" width="18" height="18"/><rect x="1266.5" y="2424.7" width="18" height="18"/><rect x="1278.5" y="2427.8" width="18" height="18"/><rect x="1290.5" y="2424.7" width="18" height="18"/><rect x="1302.5" y="2419.6" width="18" height="18"/><rect x="1314.5" y="2414.5" width="18" height="18"/><rect x="1326.5" y="2403.3" width="18" height="18"/><rect x="1338.5" y="2379.8" width="18" height="18"/><rect x="1350.5" y="2349.3" width="18" height="18"/><rect x="1362.5" y="2330.9" width="18" height="18"/><rect x="1374.5" y="2354.4" width="18" height="18"/><rect x="1386.5" y="2384.9" width="18" height="18"/><rect x="1398.5" y="2410.4" width="18" height="18"/><rect x="1410.5" y="2419.6" width="18" height="18"/><rect x="1422.5" y="2421.6" width="18" height="18"/><rect x="1434.5" y="2421.6" width="18" height="18"/><rect x="1446.5" y="2422.7" width="18" height="18"/><rect x="1458.5" y="2423.7" width="18" height="18"/><rect x="1470.5" y="2421.6" width="18" height="18"/><rect x="1482.5" y="2421.6" width="18" height="18"/><rect x="1494.5" y="2421.6" width="18" height="18"/><rect x="1506.5" y="2419.6" width="18" height="18"/><rect x="1518.5" y="2417.6" width="18" height="18"/><rect x="1530.5" y="2413.5" width="18" height="18"/><rect x="1542.5" y="2399.2" width="18" height="18"/><rect x="1554.5" y="2361.5" width="18" height="18"/><rect x="1566.5" y="2273.8" width="18" height="18"/><rect x="1578.5" y="2286.1" width="18" height="18"/><rect x="1590.5" y="2371.7" width="18" height="18"/><rect x="1602.5" y="2380.9" width="18" height="18"/><rect x="1614.5" y="2397.2" width="18" height="18"/><rect x="1626.5" y="2419.6" width="18" height="18"/><rect x="1638.5" y="2427.8" width="18" height="18"/><rect x="1650.5" y="2413.5" width="18" height="18"/><rect x="1662.5" y="2427.8" width="18" height="18"/><rect x="1674.5" y="2429.8" width="18" height="18"/><rect x="1686.5" y="2424.7" width="18" height="18"/><rect x="1698.5" y="2421.6" width="18" height="18"/><rect x="1710.5" y="2427.8" width="18" height="18"/><rect x="1722.5" y="2435.9" width="18" height="18"/><rect x="1734.5" y="2408.4" width="18" height="18"/><rect x="1746.5" y="2408.4" width="18" height="18"/><rect x="1758.5" y="2415.5" width="18" height="18"/><rect x="1770.5" y="2397.2" width="18" height="18"/></g>
</g>
<g font-family="Liberation Sans, Arial, sans-serif" font-weight="bold" fill="#000">
<text x="1014" y="103.5" font-size="71.7" text-anchor="middle">Photon Energy (eV)</text>
<text x="259.9" y="178.5" font-size="67" text-anchor="middle">6</text>
<text x="362.6" y="178.5" font-size="67" text-anchor="middle">5</text>
<text x="516.8" y="178.5" font-size="67" text-anchor="middle">4</text>
<text x="775.2" y="178.5" font-size="67" text-anchor="middle">3</text>
<text x="1287" y="178.5" font-size="67" text-anchor="middle">2</text>
<text x="221.5" y="1348.8" font-size="67" text-anchor="end">0.0</text>
<text x="221.5" y="1144.7" font-size="67" text-anchor="end">0.2</text>
<text x="221.5" y="940.6" font-size="67" text-anchor="end">0.4</text>
<text x="221.5" y="736.5" font-size="67" text-anchor="end">0.6</text>
<text x="221.5" y="532.4" font-size="67" text-anchor="end">0.8</text>
<text x="221.5" y="328.3" font-size="67" text-anchor="end">1.0</text>
<text x="221.5" y="2468.6" font-size="67" text-anchor="end">0.0</text>
<text x="221.5" y="2264.7" font-size="67" text-anchor="end">0.2</text>
<text x="221.5" y="2060.8" font-size="67" text-anchor="end">0.4</text>
<text x="221.5" y="1856.9" font-size="67" text-anchor="end">0.6</text>
<text x="221.5" y="1653.0" font-size="67" text-anchor="end">0.8</text>
<text x="221.5" y="1449.1" font-size="67" text-anchor="end">1.0</text>
<text x="242.5" y="2520.5" font-size="67" text-anchor="middle">200</text>
<text x="482.5" y="2520.5" font-size="67" text-anchor="middle">300</text>
<text x="722.5" y="2520.5" font-size="67" text-anchor="middle">400</text>
<text x="962.5" y="2520.5" font-size="67" text-anchor="middle">500</text>
<text x="1202.5" y="2520.5" font-size="67" text-anchor="middle">600</text>
<text x="1442.5" y="2520.5" font-size="67" text-anchor="middle">700</text>
<text x="1682.5" y="2520.5" font-size="67" text-anchor="middle">800</text>
<text x="981.9" y="2605" font-size="71.8" text-anchor="middle">Wavelength (nm)</text>
<text transform="translate(99.5,765.5) rotate(-90)" x="0" y="0" font-size="74.5" text-anchor="middle">Intensity (a.u.)</text>
<text transform="translate(99.5,1934) rotate(-90)" x="0" y="0" font-size="74.5" text-anchor="middle">Intensity (a.u.)</text>
<text x="1705" y="313.3" font-size="73.5" text-anchor="middle">(a)</text>
<text x="1715.4" y="1475" font-size="73.5" text-anchor="middle">(b)</text>
<text x="624.8" y="300.5" font-size="67" text-anchor="middle">3</text>
<text x="1122.3" y="296" font-size="67" text-anchor="middle">2</text>
<text x="1502.5" y="620.4" font-size="67" text-anchor="middle">1</text>
<text x="1020.5" y="1432" font-size="67" text-anchor="middle">2</text>
<text x="888.3" y="1724.5" font-size="67" text-anchor="middle">3</text>
<text x="1478.5" y="1836.7" font-size="67" text-anchor="middle">1</text>
<text x="432.8" y="1217.6" font-size="67.6">NYP:RE</text>
<text x="687.5" y="1186" font-size="43.5" font-weight="normal">3+</text>
<text x="410.6" y="2308" font-size="67.6">NLP:RE</text>
<text x="663.5" y="2274.5" font-size="43.5" font-weight="normal">3+</text>
</g>
<g fill="#fdfdfd"><rect x="1486.0" y="612.2" width="12.9" height="9"/><rect x="1508.1" y="612.2" width="11.9" height="9"/><rect x="1462.0" y="1828.5" width="12.9" height="9"/><rect x="1484.1" y="1828.5" width="11.9" height="9"/><rect x="131.0" y="320.1" width="12.9" height="9"/><rect x="153.1" y="320.1" width="11.9" height="9"/><rect x="131.0" y="1440.9" width="12.9" height="9"/><rect x="153.1" y="1440.9" width="11.9" height="9"/></g>
</svg>
</body></html>
